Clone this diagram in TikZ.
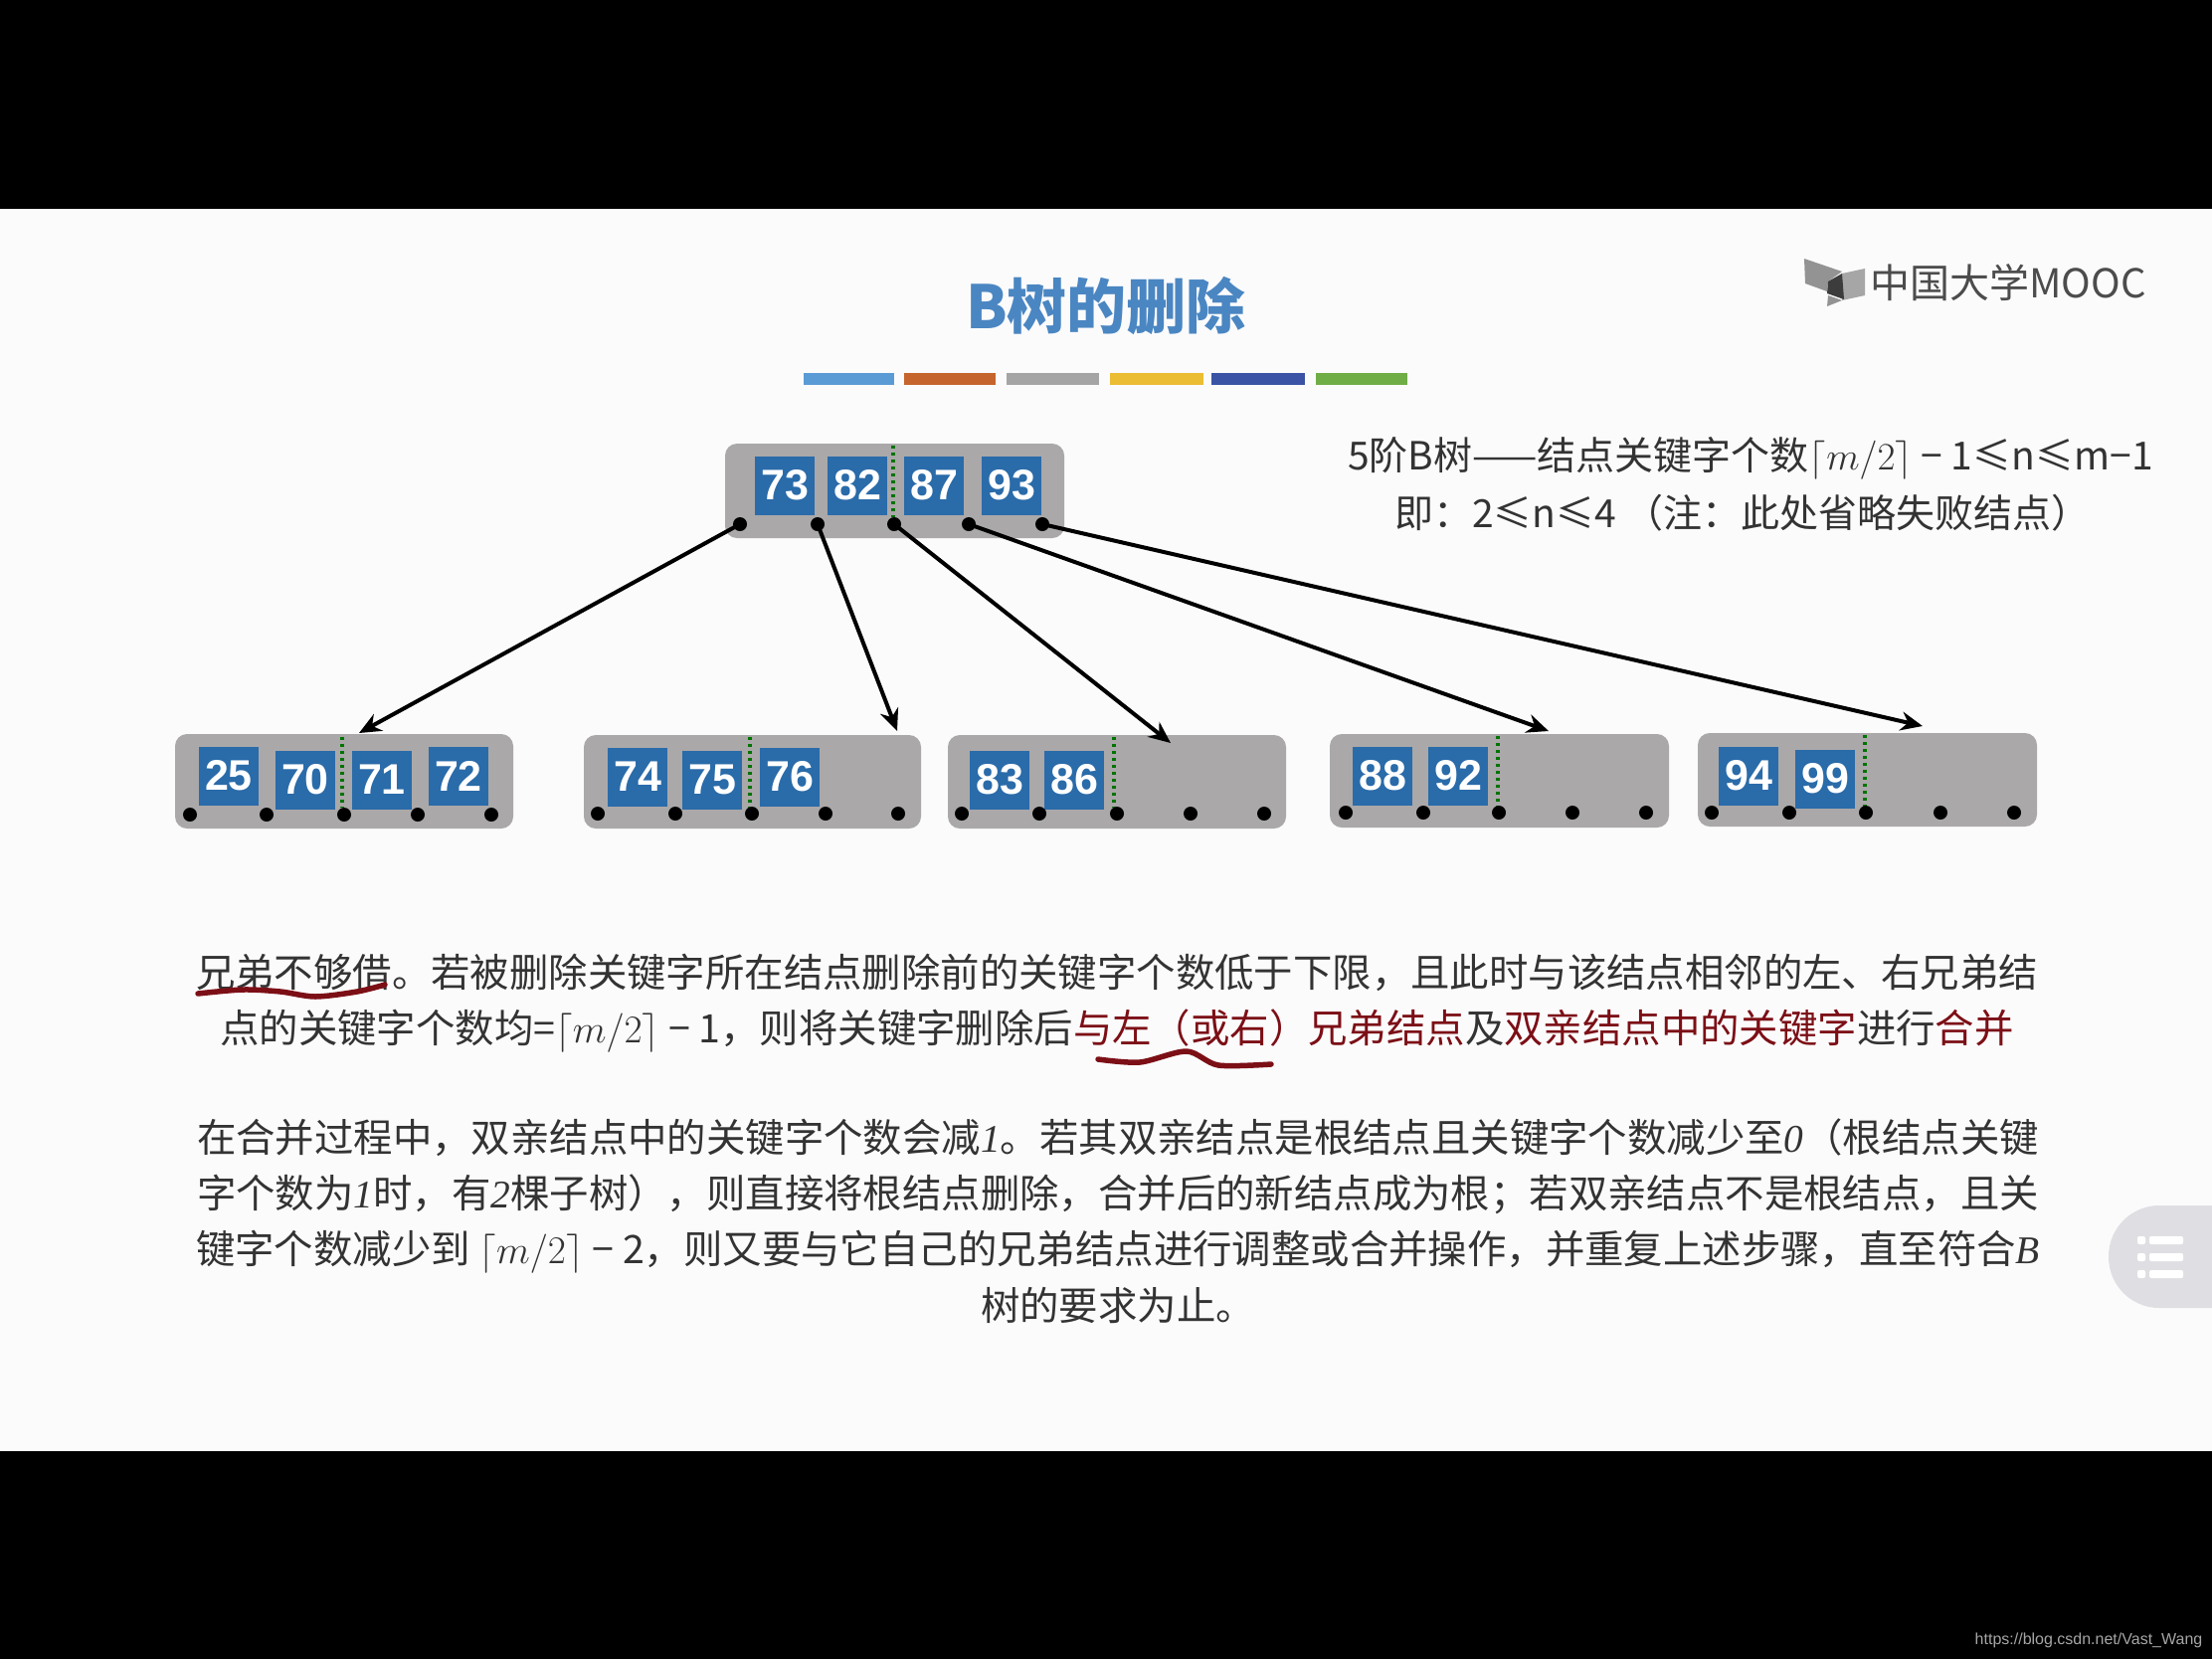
\documentclass[tikz,border=0pt]{standalone}
\usepackage{fix-cm}
\usepackage{fontspec}
\setmainfont{Noto Sans CJK SC}
\newfontfamily\keyfont{Liberation Sans}
\newfontfamily\itfont{Liberation Serif}
\usetikzlibrary{arrows}
\usetikzlibrary{arrows.meta}

\definecolor{screen}{HTML}{FBFBFC}
\definecolor{slateblue}{HTML}{4A86C2}
\definecolor{keyblue}{HTML}{2A6BA9}
\definecolor{nodegray}{HTML}{AAA8A9}
\definecolor{bodygray}{HTML}{333333}
\definecolor{penred}{HTML}{7C0F16}
\definecolor{menugray}{HTML}{DFDFE3}

\newcommand{\bodysize}{\fontsize{39.4}{39.4}\selectfont}
\newcommand{\ceilhalf}{$\lceil m/2\rceil$}
\newcommand{\rd}[1]{\textcolor{penred}{#1}}
\newcommand{\itnum}[1]{{\itfont\itshape #1}}

\tikzset{
  nodebox/.style={fill=nodegray,rounded corners=12pt},
  keybox/.style={fill=keyblue,text=white,minimum width=60pt,minimum height=59pt,inner sep=0pt,font=\keyfont\bfseries\fontsize{43}{43}\selectfont},
  ptrdot/.style={circle,fill=black,minimum size=14pt,inner sep=0pt},
  midline/.style={green!45!black,line width=3.5pt,dash pattern=on 3pt off 4pt},
  ptrarrow/.style={-{Stealth[length=22pt,width=19pt]},line width=4pt,black},
  bodyline/.style={text=bodygray,inner sep=0pt,font=\bodysize},
  noteline/.style={text=bodygray,inner sep=0pt,font=\fontsize{39}{39}\selectfont},
  penstroke/.style={penred,line width=5.5pt,line cap=round,smooth}
}

\begin{document}
\begin{tikzpicture}[x=1pt,y=-1pt]

    \useasboundingbox (0,0) rectangle (2224,1668);

    % screen bands
    \fill[black] (0,0) rectangle (2224,1668);
    \fill[screen] (0,210) rectangle (2224,1459);

    % title and colour bars
    \node[text=slateblue,inner sep=0pt,font=\bfseries\fontsize{60}{60}\selectfont] (title) at (1112,308) {B树的删除};
    \foreach \xa/\xb/\col in {808/899/5B9BD5,909/1001/C5652D,1012/1105/A5A5A5,1116/1210/EBBD33,1218/1312/3A53A4,1323/1415/70AD47} {
      \definecolor{barcol}{HTML}{\col}
      \fill[barcol] (\xa,375) rectangle (\xb,387);
    }

    % logo
    \fill[gray!85] (1814,260) -- (1852,273) -- (1838,283) -- (1837,293) -- (1815,285) -- cycle;
    \fill[gray!70] (1875,270) -- (1875,297) -- (1852,302) -- (1852,275) -- cycle;
    \fill[gray!20!black!85] (1852,275) -- (1854,301) -- (1837,295) -- (1838,283) -- cycle;
    \fill[gray!85] (1837,308) -- (1852,302) -- (1838,297) -- cycle;
    \node[text=black!70,inner sep=0pt,anchor=west,font=\fontsize{40}{40}\selectfont] (logo) at (1880,284) {中国大学MOOC};

    % order note
    \node[noteline] (note1) at (1760,461) {5阶B树——结点关键字个数\ceilhalf{} − 1≤n≤m−1};
    \node[noteline] (note2) at (1752,516) {即：2≤n≤4 （注：此处省略失败结点）};

    % node backgrounds
    \fill[nodebox] (729,446) rectangle (1070,541);
    \fill[nodebox] (176,738) rectangle (516,833);
    \fill[nodebox] (587,739) rectangle (926,833);
    \fill[nodebox] (953,739) rectangle (1293,833);
    \fill[nodebox] (1337,738) rectangle (1678,832);
    \fill[nodebox] (1707,737) rectangle (2048,831);

    % key boxes
    \foreach \k/\x/\y in {73/789/488,82/862/488,87/939/488,93/1017/488,
                          25/230/780,70/307/784,71/384/784,72/461/780,
                          74/641/781,75/716/784,76/794/781,
                          83/1005/784,86/1080/784,
                          88/1390/780,92/1466/780,
                          94/1758/780,99/1835/783}
      \node[keybox] (k\k) at (\x,\y) {\k};

    % dotted separators
    \foreach \x/\ya/\yb in {898/448/520,344/741/812,754/741/812,1120/741/812,1506/740/812,1875/739/811}
      \draw[midline] (\x,\ya) -- (\x,\yb);

    % pointer dots of the root
    \foreach \n/\x in {1/744,2/822,3/899,4/974,5/1048}
      \node[ptrdot] (r\n) at (\x,527) {};

    % pointer dots of the children
    \foreach \n/\x/\y in {a1/191/819,a2/268/819,a3/346/819,a4/420/819,a5/494/819,
                          b1/601/818,b2/679/818,b3/756/818,b4/830/818,b5/903/818,
                          c1/967/818,c2/1045/818,c3/1123/818,c4/1197/818,c5/1271/818,
                          d1/1353/817,d2/1431/817,d3/1507/817,d4/1581/817,d5/1655/817,
                          e1/1721/817,e2/1799/817,e3/1876/817,e4/1951/817,e5/2025/817}
      \node[ptrdot] (\n) at (\x,\y) {};

    % child pointers
    \coordinate (t1) at (361,737);
    \coordinate (t2) at (902,735);
    \coordinate (t3) at (1177,747);
    \coordinate (t4) at (1557,735);
    \coordinate (t5) at (1933,730);
    \foreach \n in {1,...,5}
      \draw[ptrarrow] (r\n.center) -- (t\n);

    % first paragraph
    \node[bodyline] (line1) at (1123,978) {兄弟不够借。若被删除关键字所在结点删除前的关键字个数低于下限，且此时与该结点相邻的左、右兄弟结};
    \node[bodyline] (line2) at (1123,1037) {点的关键字个数均=\ceilhalf{} − 1，则将关键字删除后\rd{与左（或右）兄弟结点}及\rd{双亲结点中的关键字}进行\rd{合并}};

    % second paragraph
    \node[bodyline] (line3) at (1124,1144) {在合并过程中，双亲结点中的关键字个数会减\itnum{1}。若其双亲结点是根结点且关键字个数减少至\itnum{0}（根结点关键};
    \node[bodyline] (line4) at (1124,1201) {字个数为\itnum{1}时，有\itnum{2}棵子树），则直接将根结点删除，合并后的新结点成为根；若双亲结点不是根结点，且关};
    \node[bodyline] (line5) at (1124,1259) {键字个数减少到 \ceilhalf{} − 2，则又要与它自己的兄弟结点进行调整或合并操作，并重复上述步骤，直至符合\itnum{B}};
    \node[bodyline] (line6) at (1124,1312) {树的要求为止。};

    % pen strokes
    \draw[penstroke] plot coordinates {(199,999) (244,995) (282,997) (317,1002) (359,997) (387,990)};
    \draw[penstroke] plot coordinates {(1104,1065) (1146,1068) (1193,1057) (1225,1071) (1278,1070)};

    % menu button
    \fill[menugray,rounded corners=51pt] (2120,1212) rectangle (2340,1315);
    \foreach \y in {1243,1260,1277} {
      \fill[white,rounded corners=2pt] (2149,\y) rectangle (2157,\y+8);
      \fill[white,rounded corners=2pt] (2161,\y) rectangle (2195,\y+8);
    }

    % watermark
    \node[text=black!35,inner sep=0pt,font=\keyfont\fontsize{16}{16}\selectfont] (mark) at (2100,1649) {https://blog.csdn.net/Vast\_Wang};

\end{tikzpicture}
\end{document}
